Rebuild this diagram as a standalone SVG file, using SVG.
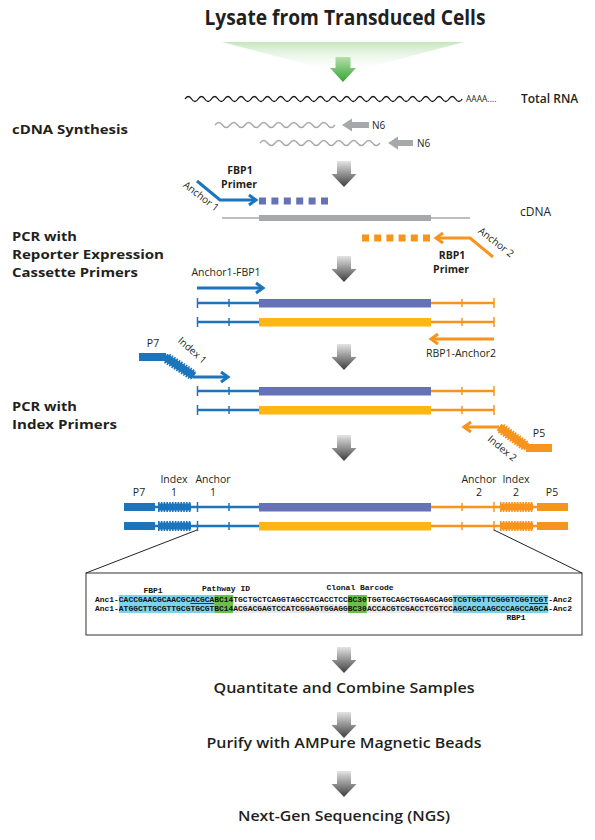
<svg xmlns="http://www.w3.org/2000/svg" xmlns:xlink="http://www.w3.org/1999/xlink" width="595" height="840" viewBox="0 0 595 840">
<style>
.t{font-family:"Open Sans","Liberation Sans",sans-serif;fill:#231f20}
.step{font-size:13.2px;font-weight:700}
.big{font-size:14px;font-weight:600}
.sm{font-size:10.5px}
.smb{font-size:10.5px;font-weight:700}
.mono{font-family:"Liberation Mono","DejaVu Sans Mono",monospace;font-size:8px;font-weight:700;fill:#111}
.monob{font-family:"Liberation Mono","DejaVu Sans Mono",monospace;font-size:8px;font-weight:700;fill:#111}
.blue{stroke:#1c75bc;fill:none}
.org{stroke:#f7941e;fill:none}
.thin{stroke-width:2.5}
.tick{stroke-width:1.5}
.chev{stroke-width:3;fill:none;stroke-linejoin:miter}
</style>
<defs>
<linearGradient id="gg" x1="0" y1="0" x2="0" y2="1"><stop offset="0" stop-color="#e4e4e4"/><stop offset="1" stop-color="#3d3d3d"/></linearGradient>
<linearGradient id="greenA" x1="0" y1="0" x2="0" y2="1"><stop offset="0" stop-color="#b5e0aa"/><stop offset="1" stop-color="#35a332"/></linearGradient>
<linearGradient id="glow" x1="0" y1="0" x2="0" y2="1"><stop offset="0" stop-color="#c6e6bd"/><stop offset="1" stop-color="#ffffff" stop-opacity="0"/></linearGradient>
<path id="ga" d="M-7 0H7V13H12.5L0 26L-12.5 13H-7Z" fill="url(#gg)"/>
</defs>

<g id="title"><text class="t" x="345" y="25" text-anchor="middle" font-size="21" font-weight="700" textLength="281" lengthAdjust="spacingAndGlyphs">Lysate from Transduced Cells</text></g>

<g id="lysate-arrow">
<polygon points="222,42 464,42 343,74" fill="url(#glow)"/>
<path d="M335.5 57H350.5V68H356L343 82L330 68H335.5Z" fill="url(#greenA)"/>
</g>

<g id="total-rna">
<path d="M185 99 q3.3 -5 6.6 0 t6.6 0 t6.6 0 t6.6 0 t6.6 0 t6.6 0 t6.6 0 t6.6 0 t6.6 0 t6.6 0 t6.6 0 t6.6 0 t6.6 0 t6.6 0 t6.6 0 t6.6 0 t6.6 0 t6.6 0 t6.6 0 t6.6 0 t6.6 0 t6.6 0 t6.6 0 t6.6 0 t6.6 0 t6.6 0 t6.6 0 t6.6 0 t6.6 0 t6.6 0 t6.6 0 t6.6 0 t6.6 0 t6.6 0 t6.6 0 t6.6 0 t6.6 0 t6.6 0 t6.6 0 t6.6 0 t6.6 0 t6.6 0" stroke="#111" stroke-width="1.3" fill="none"/>
<text class="t" x="466" y="102" font-size="8.5">AAAA....</text>
<text class="t" x="521" y="103" font-size="12" font-weight="600">Total RNA</text>
</g>

<g id="step-labels">
<text class="t step" x="12" y="134" textLength="116" lengthAdjust="spacingAndGlyphs">cDNA Synthesis</text>
<text class="t step" x="12" y="241" textLength="65" lengthAdjust="spacingAndGlyphs">PCR with</text>
<text class="t step" x="12" y="259" textLength="152" lengthAdjust="spacingAndGlyphs">Reporter Expression</text>
<text class="t step" x="12" y="277" textLength="126" lengthAdjust="spacingAndGlyphs">Cassette Primers</text>
<text class="t step" x="12" y="411" textLength="65" lengthAdjust="spacingAndGlyphs">PCR with</text>
<text class="t step" x="12" y="429" textLength="105" lengthAdjust="spacingAndGlyphs">Index Primers</text>
</g>

<g id="cdna-synthesis">
<path d="M215 125 q3.75 -5 7.5 0 t7.5 0 t7.5 0 t7.5 0 t7.5 0 t7.5 0 t7.5 0 t7.5 0 t7.5 0 t7.5 0 t7.5 0 t7.5 0 t7.5 0 t7.5 0 t7.5 0 t7.5 0" stroke="#a6a8ab" stroke-width="1.4" fill="none"/>
<path d="M260 143 q3.75 -5 7.5 0 t7.5 0 t7.5 0 t7.5 0 t7.5 0 t7.5 0 t7.5 0 t7.5 0 t7.5 0 t7.5 0 t7.5 0 t7.5 0 t7.5 0 t7.5 0 t7.5 0 t7.5 0" stroke="#a6a8ab" stroke-width="1.4" fill="none"/>
<path d="M342 125L352 118.5V122H369V128H352V131.5Z" fill="#a6a8ab"/>
<path d="M388 143L398 136.5V140H413V146H398V149.5Z" fill="#a6a8ab"/>
<text class="t" x="372" y="129" font-size="10">N6</text>
<text class="t" x="417" y="147" font-size="10">N6</text>
</g>

<g id="cdna-template">
<line x1="222" y1="218" x2="470" y2="218" stroke="#a6a8ab" stroke-width="1.3"/>
<rect x="259" y="215" width="172" height="6" fill="#a6a8ab"/>
<text class="t" x="520" y="216" font-size="12">cDNA</text>
</g>

<g id="fbp1-primer">
<path class="blue chev" d="M197 181L220 200H255"/>
<path class="blue chev" d="M249 195L256 200L249 205"/>
<line x1="259" y1="201" x2="328" y2="201" stroke="#6572b8" stroke-width="7" stroke-dasharray="7 5.4"/>
<text class="t smb" x="240" y="174" text-anchor="middle">FBP1</text>
<text class="t smb" x="239" y="188" text-anchor="middle">Primer</text>
<text class="t" font-size="10" transform="translate(199,199) rotate(38)" text-anchor="middle">Anchor 1</text>
</g>

<g id="rbp1-primer">
<path class="org chev" d="M493 257L470 238H437"/>
<path class="org chev" d="M443 233L436 238L443 243"/>
<line x1="362" y1="238" x2="430" y2="238" stroke="#f7941e" stroke-width="7" stroke-dasharray="7 5.2"/>
<text class="t smb" x="452" y="259" text-anchor="middle">RBP1</text>
<text class="t smb" x="451" y="273" text-anchor="middle">Primer</text>
<text class="t" font-size="10" transform="translate(494,245) rotate(38)" text-anchor="middle">Anchor 2</text>
</g>

<g id="reporter-pcr-primers">
<text class="t sm" x="226" y="276" text-anchor="middle">Anchor1-FBP1</text>
<path class="blue chev" d="M197 288H262"/>
<path class="blue chev" d="M256 283L263 288L256 293"/>
<path class="org chev" d="M494 339H432"/>
<path class="org chev" d="M438 334L431 339L438 344"/>
<text class="t sm" x="461" y="357" text-anchor="middle">RBP1-Anchor2</text>
</g>

<g id="product-1">
<line class="blue thin" x1="197" y1="303" x2="260" y2="303"/>
<line class="blue tick" x1="197.5" y1="298" x2="197.5" y2="308"/>
<line class="blue tick" x1="229" y1="299" x2="229" y2="307"/>
<line class="org thin" x1="430" y1="303" x2="494" y2="303"/>
<line class="org tick" x1="462" y1="299" x2="462" y2="307"/>
<line class="org tick" x1="494" y1="298" x2="494" y2="308"/>
<rect x="259" y="299" width="172" height="8.5" fill="#6572b8"/>
<line class="blue thin" x1="197" y1="322" x2="260" y2="322"/>
<line class="blue tick" x1="197.5" y1="317" x2="197.5" y2="327"/>
<line class="blue tick" x1="229" y1="318" x2="229" y2="326"/>
<line class="org thin" x1="430" y1="322" x2="494" y2="322"/>
<line class="org tick" x1="462" y1="318" x2="462" y2="326"/>
<line class="org tick" x1="494" y1="317" x2="494" y2="327"/>
<rect x="259" y="318" width="172" height="8.5" fill="#fdb614"/>
</g>

<g id="index1-primer">
<rect x="139" y="353" width="27" height="8" fill="#1c75bc"/>
<line x1="165" y1="357" x2="194" y2="376" stroke="#1c75bc" stroke-width="8"/>
<line x1="167" y1="358.3" x2="193" y2="375.3" stroke="#1c75bc" stroke-width="11" stroke-dasharray="1.6 1.2"/>
<path class="blue chev" d="M193 377H227"/>
<path class="blue chev" d="M221 372L228 377L221 382"/>
<text class="t" x="153" y="347" font-size="10.5" text-anchor="middle">P7</text>
<text class="t" font-size="10" transform="translate(190,353) rotate(42)" text-anchor="middle">Index 1</text>
</g>

<g id="product-2">
<line class="blue thin" x1="197" y1="391" x2="260" y2="391"/>
<line class="blue tick" x1="197.5" y1="386" x2="197.5" y2="396"/>
<line class="blue tick" x1="229" y1="387" x2="229" y2="395"/>
<line class="org thin" x1="430" y1="391" x2="494" y2="391"/>
<line class="org tick" x1="462" y1="387" x2="462" y2="395"/>
<line class="org tick" x1="494" y1="386" x2="494" y2="396"/>
<rect x="259" y="387" width="172" height="8.5" fill="#6572b8"/>
<line class="blue thin" x1="197" y1="410" x2="260" y2="410"/>
<line class="blue tick" x1="197.5" y1="405" x2="197.5" y2="415"/>
<line class="blue tick" x1="229" y1="406" x2="229" y2="414"/>
<line class="org thin" x1="430" y1="410" x2="494" y2="410"/>
<line class="org tick" x1="462" y1="406" x2="462" y2="414"/>
<line class="org tick" x1="494" y1="405" x2="494" y2="415"/>
<rect x="259" y="406" width="172" height="8.5" fill="#fdb614"/>
</g>

<g id="index2-primer">
<path class="org chev" d="M499 427H465"/>
<path class="org chev" d="M471 422L464 427L471 432"/>
<line x1="499" y1="427" x2="527" y2="447" stroke="#f7941e" stroke-width="8"/>
<line x1="501" y1="428.4" x2="525" y2="445.6" stroke="#f7941e" stroke-width="11" stroke-dasharray="1.6 1.2"/>
<rect x="526" y="444" width="26" height="8" fill="#f7941e"/>
<text class="t" x="539" y="437" font-size="10.5" text-anchor="middle">P5</text>
<text class="t" font-size="10" transform="translate(500,451) rotate(40)" text-anchor="middle">Index 2</text>
</g>

<g id="final-product">
<text class="t" x="139" y="496" font-size="10.5" text-anchor="middle">P7</text>
<text class="t" x="174" y="483" font-size="10.5" text-anchor="middle">Index</text>
<text class="t" x="174" y="496" font-size="10.5" text-anchor="middle">1</text>
<text class="t" x="213" y="483" font-size="10.5" text-anchor="middle">Anchor</text>
<text class="t" x="213" y="496" font-size="10.5" text-anchor="middle">1</text>
<text class="t" x="479" y="483" font-size="10.5" text-anchor="middle">Anchor</text>
<text class="t" x="479" y="496" font-size="10.5" text-anchor="middle">2</text>
<text class="t" x="516" y="483" font-size="10.5" text-anchor="middle">Index</text>
<text class="t" x="516" y="496" font-size="10.5" text-anchor="middle">2</text>
<text class="t" x="552" y="496" font-size="10.5" text-anchor="middle">P5</text>
<line class="blue thin" x1="124" y1="507" x2="260" y2="507"/>
<line class="blue tick" x1="197.5" y1="502" x2="197.5" y2="512"/>
<line class="blue tick" x1="229" y1="503" x2="229" y2="511"/>
<rect x="124" y="503" width="31" height="8" fill="#1c75bc"/>
<line x1="158" y1="507" x2="191" y2="507" stroke="#1c75bc" stroke-width="7"/>
<line x1="158" y1="507" x2="191" y2="507" stroke="#1c75bc" stroke-width="10" stroke-dasharray="1.6 1.2"/>
<line class="org thin" x1="430" y1="507" x2="568" y2="507"/>
<line class="org tick" x1="462" y1="503" x2="462" y2="511"/>
<line class="org tick" x1="494" y1="502" x2="494" y2="512"/>
<line x1="500" y1="507" x2="533" y2="507" stroke="#f7941e" stroke-width="7"/>
<line x1="500" y1="507" x2="533" y2="507" stroke="#f7941e" stroke-width="10" stroke-dasharray="1.6 1.2"/>
<rect x="537" y="503" width="31" height="8" fill="#f7941e"/>
<rect x="259" y="503" width="172" height="8.5" fill="#6572b8"/>

<line class="blue thin" x1="124" y1="526" x2="260" y2="526"/>
<line class="blue tick" x1="197.5" y1="521" x2="197.5" y2="531"/>
<line class="blue tick" x1="229" y1="522" x2="229" y2="530"/>
<rect x="124" y="522" width="31" height="8" fill="#1c75bc"/>
<line x1="158" y1="526" x2="191" y2="526" stroke="#1c75bc" stroke-width="7"/>
<line x1="158" y1="526" x2="191" y2="526" stroke="#1c75bc" stroke-width="10" stroke-dasharray="1.6 1.2"/>
<line class="org thin" x1="430" y1="526" x2="568" y2="526"/>
<line class="org tick" x1="462" y1="522" x2="462" y2="530"/>
<line class="org tick" x1="494" y1="521" x2="494" y2="531"/>
<line x1="500" y1="526" x2="533" y2="526" stroke="#f7941e" stroke-width="7"/>
<line x1="500" y1="526" x2="533" y2="526" stroke="#f7941e" stroke-width="10" stroke-dasharray="1.6 1.2"/>
<rect x="537" y="522" width="31" height="8" fill="#f7941e"/>
<rect x="259" y="522" width="172" height="8.5" fill="#fdb614"/>
</g>

<g id="sequence-box">
<rect x="86" y="573" width="496" height="62" fill="#fff" stroke="#333" stroke-width="1"/>
<rect x="118.9" y="595" width="95.4" height="18" fill="#7dd3ec"/>
<rect x="214.3" y="595" width="19.1" height="18" fill="#6cbf4a"/>
<rect x="347.8" y="595" width="19.1" height="18" fill="#6cbf4a"/>
<rect x="452.8" y="595" width="95.4" height="18" fill="#7dd3ec"/>
<rect x="233.4" y="604" width="114.4" height="9" fill="#e8e8e8"/>
<rect x="366.9" y="604" width="85.9" height="9" fill="#e8e8e8"/>
<text class="monob" x="153" y="593" text-anchor="middle">FBP1</text>
<text class="monob" x="226" y="591" text-anchor="middle">Pathway ID</text>
<text class="monob" x="360" y="590" text-anchor="middle">Clonal Barcode</text>
<text class="monob" x="516" y="620" text-anchor="middle">RBP1</text>
<text class="mono" x="95" y="602" textLength="477" lengthAdjust="spacingAndGlyphs">Anc1-CACCGAACGCAACGCACGCABC14TGCTGCTCAGGTAGCCTCACCTCCBC30TGGTGCAGCTGGAGCAGGTCGTGGTTCGGGTCGGTCGT-Anc2</text>
<text class="mono" x="95" y="611" textLength="477" lengthAdjust="spacingAndGlyphs">Anc1-ATGGCTTGCGTTGCGTGCGTBC14ACGACGAGTCCATCGGAGTGGAGGBC30ACCACGTCGACCTCGTCCAGCACCAAGCCCAGCCAGCA-Anc2</text>
<line x1="190.4" y1="603.5" x2="214.3" y2="603.5" stroke="#111" stroke-width="0.8"/>
<line x1="529" y1="603.5" x2="548.1" y2="603.5" stroke="#111" stroke-width="0.8"/>
</g>

<g id="bottom-steps">
<text class="t big" x="344" y="693" text-anchor="middle" textLength="261" lengthAdjust="spacingAndGlyphs">Quantitate and Combine Samples</text>
<text class="t big" x="344" y="748" text-anchor="middle" textLength="275" lengthAdjust="spacingAndGlyphs">Purify with AMPure Magnetic Beads</text>
<text class="t big" x="344" y="821" text-anchor="middle" textLength="212" lengthAdjust="spacingAndGlyphs">Next-Gen Sequencing (NGS)</text>
</g>

<g id="connectors">
<use href="#ga" transform="translate(344,161)"/>
<use href="#ga" transform="translate(344,256)"/>
<use href="#ga" transform="translate(344,344)"/>
<use href="#ga" transform="translate(344,435)"/>
<use href="#ga" transform="translate(344,647)"/>
<use href="#ga" transform="translate(344,712)"/>
<use href="#ga" transform="translate(344,771)"/>
<line x1="197" y1="530" x2="86" y2="573" stroke="#222" stroke-width="1"/>
<line x1="494" y1="530" x2="582" y2="573" stroke="#222" stroke-width="1"/>
</g>
</svg>
